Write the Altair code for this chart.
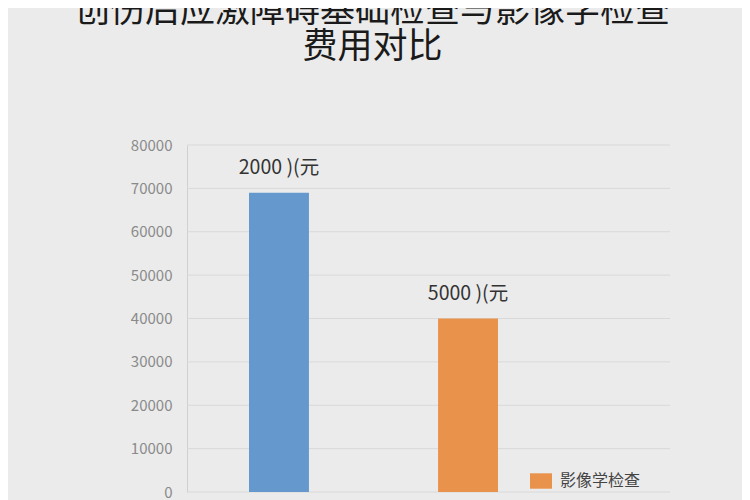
import altair as alt
import pandas as pd

# ---- data ----
categories = ["基础检查", "影像学检查"]
costs = [69000, 40000]
bar_labels = ["2000 )(元", "5000 )(元"]
bar_colors = ["#6598cc", "#e8924c"]
y_ticks = [0, 10000, 20000, 30000, 40000, 50000, 60000, 70000, 80000]
title_lines = ["创伤后应激障碍基础检查与影像学检查", "费用对比"]
legend_entries = ["影像学检查"]

df = pd.DataFrame({"category": categories, "cost": costs, "label": bar_labels})
grid_df = pd.DataFrame({"v": y_ticks})

FONT = "Noto Sans CJK SC"

x_scale = alt.Scale(domain=categories, range=[0, 373], paddingInner=0.683, paddingOuter=0.328)
y_scale = alt.Scale(domain=[0, 80000], nice=False)

grid = alt.Chart(grid_df).mark_rule(color="#d9d9d9", strokeWidth=1).encode(
    y=alt.Y("v:Q", scale=y_scale,
            axis=alt.Axis(values=y_ticks, title=None, ticks=False, grid=False, labelPadding=15,
                          labelFontSize=15, labelColor="#8a8a8a", labelFont=FONT,
                          domainColor="#d0d0d0", format="d")),
)

bars = alt.Chart(df).mark_bar().encode(
    x=alt.X("category:N", scale=x_scale, axis=None),
    y=alt.Y("cost:Q", scale=y_scale),
    color=alt.Color(
        "category:N",
        scale=alt.Scale(domain=categories, range=bar_colors),
        legend=alt.Legend(
            orient="none", legendX=343, legendY=325, title=None,
            symbolType="M-1,-0.7L1,-0.7L1,0.7L-1,0.7Z", symbolSize=484,
            symbolStrokeWidth=0, symbolOpacity=1,
            labelFontSize=16, labelColor="#444444", labelFont=FONT,
            padding=0, labelOffset=8,
            values=legend_entries,
        ),
    ),
)

labels = alt.Chart(df).mark_text(dy=-25, fontSize=19.5, color="#333333", font=FONT).encode(
    x=alt.X("category:N", scale=x_scale, axis=None),
    y=alt.Y("cost:Q", scale=y_scale),
    text="label:N",
)

chart = (
    (grid + bars + labels)
    .properties(
        width=483,
        height=347,
        padding={"left": 179, "top": 137, "right": 72, "bottom": 20},
        autosize=alt.AutoSizeParams(type="none"),
        background="#ebebeb",
        title=alt.TitleParams(
            text=title_lines, fontSize=35, font=FONT, fontWeight="normal",
            color="#1a1a1a", anchor="middle", frame="group", dx=-56,
            offset=73, lineHeight=36,
        ),
    )
    .configure_view(stroke=None)
)

chart.save("out.html", embed_options={"renderer": "svg", "actions": False})
